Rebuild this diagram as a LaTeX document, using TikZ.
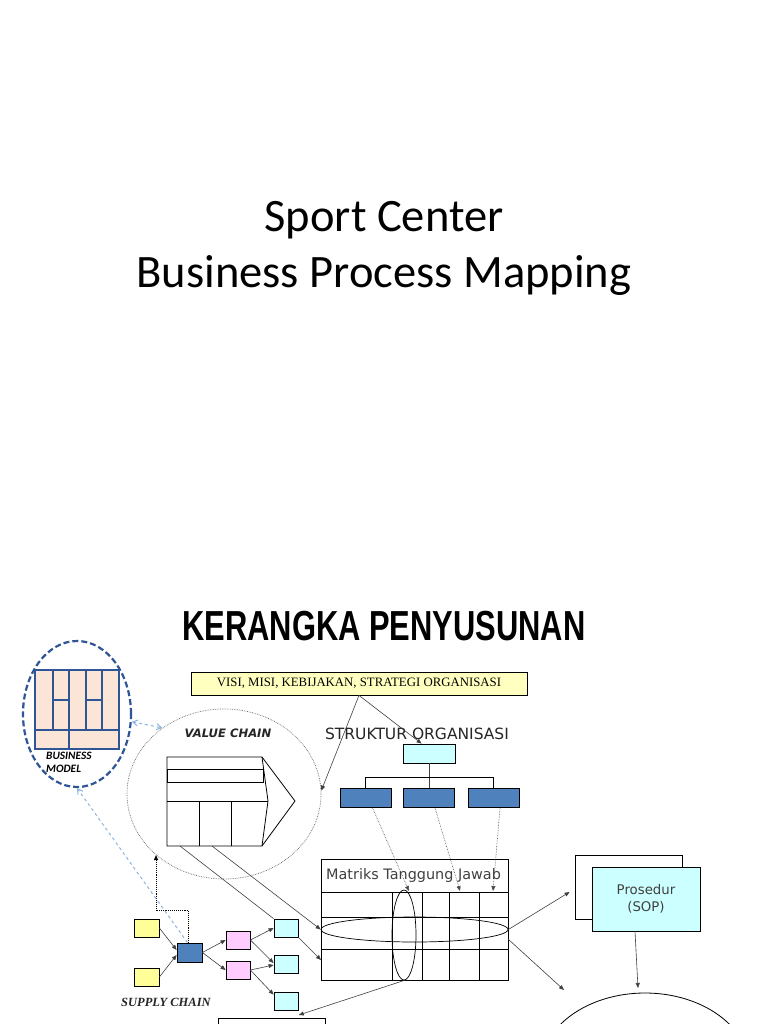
\documentclass[tikz,border=0pt]{standalone}
\usepackage{fontspec}
\setmainfont{Liberation Serif}
\newfontfamily\calibri{Carlito}
\newfontfamily\arialf{Liberation Sans}
\newfontfamily\verd{DejaVu Sans}
\usetikzlibrary{arrows.meta,shapes.geometric}
\definecolor{bmblue}{HTML}{2F5597}
\definecolor{peach}{HTML}{FBE5D6}
\definecolor{lblue}{HTML}{8EB4E3}
\definecolor{vyellow}{HTML}{FFFFC0}
\definecolor{cyanl}{HTML}{CCFFFF}
\definecolor{steel}{HTML}{4F81BD}
\definecolor{pinkl}{HTML}{FFCCFF}
\definecolor{yell}{HTML}{FFFF99}
\definecolor{txtgray}{HTML}{404040}
\tikzset{
  box/.style={draw, inner sep=0pt, line width=0.8pt},
  tri/.style={-{Triangle[length=5pt,width=4pt]}},
  thinline/.style={line width=0.6pt, black!75},
  dotline/.style={line width=0.6pt, black!70, densely dotted},
  bline/.style={draw=bmblue, line width=1.8pt},
  lbarrow/.style={lblue, dashed, line width=1pt},
}
\begin{document}
\begin{tikzpicture}[x=1pt,y=-1pt]
\useasboundingbox (0,0) rectangle (768,1024);
\clip (0,0) rectangle (768,1024);
\fill[white] (0,0) rectangle (768,1024);

% titles
\node[font=\calibri\fontsize{46.5}{56}\selectfont, anchor=base] (t1) at (384,232) {Sport Center};
\node[font=\calibri\fontsize{46.5}{56}\selectfont, anchor=base] (t2) at (384,287) {Business Process Mapping};
\node[font=\arialf\bfseries\fontsize{42}{48}\selectfont, anchor=base, inner sep=0] (kp) at (384,640) {\scalebox{0.735}[1]{KERANGKA PENYUSUNAN}};

% business model
\filldraw[bline, fill=peach] (35,670) rectangle (119,749);
\draw[bline] (35,730) -- (119,730);
\draw[bline] (53,670) -- (53,730);
\draw[bline] (69,670) -- (69,749);
\draw[bline] (86,670) -- (86,730);
\draw[bline] (102,670) -- (102,730);
\draw[bline] (53,700) -- (69,700);
\draw[bline] (86,700) -- (102,700);
\node[draw=bmblue, line width=2.2pt, dash pattern=on 6pt off 3pt, ellipse, minimum width=108pt, minimum height=146pt, inner sep=0] (bm) at (77,714) {};
\node[anchor=north west, align=left, inner sep=0, font=\calibri\bfseries\itshape\fontsize{11.3}{13}\selectfont] (bmt) at (46,752) {BUSINESS\\MODEL};

% VISI
\node[box, fill=vyellow, minimum width=336pt, minimum height=23pt, font=\fontsize{12.8}{14}\selectfont] (visi) at (359,683.5) {VISI, MISI, KEBIJAKAN, STRATEGI ORGANISASI};

% value chain
\node[draw=black!60, ellipse, minimum width=194pt, minimum height=170pt, inner sep=0, line width=0.7pt, densely dotted] (vc) at (224,794) {};
\node[font=\verd\bfseries\itshape\fontsize{11.6}{13}\selectfont, text=black!85] (vct) at (228,733) {VALUE CHAIN};
\draw[line width=0.8pt] (167,757) -- (262,757) -- (295,801) -- (262,846) -- (167,846) -- cycle;
\draw[line width=0.8pt] (167,769) rectangle (263,782);
\draw[line width=0.8pt] (167,801) -- (268,801);
\draw[line width=0.8pt] (262,757) -- (268,801) -- (262,846);
\draw[line width=0.8pt] (199,801) -- (199,846);
\draw[line width=0.8pt] (231,801) -- (231,846);
\coordinate (vcb1) at (180,846);
\coordinate (vcb2) at (212,846);
\coordinate (vcsc) at (156,855);

% dashed blue arrows
\draw[lbarrow, {Straight Barb[length=5pt,width=6pt]}-{Straight Barb[length=5pt,width=6pt]}] (bm.-8) -- (vc.133);

% org structure
\node[font=\verd\fontsize{15.5}{17}\selectfont, text=black!85] (so) at (417,734) {STRUKTUR ORGANISASI};
\node[box, fill=cyanl, minimum width=52pt, minimum height=19pt] (org0) at (429,753.5) {};
\node[box, fill=steel, minimum width=51pt, minimum height=19pt] (org1) at (365.5,798) {};
\node[box, fill=steel, minimum width=51pt, minimum height=19pt] (org2) at (429,798) {};
\node[box, fill=steel, minimum width=51pt, minimum height=19pt] (org3) at (493.5,798) {};
\coordinate (bus) at (429,777);
\draw[thinline] (org0.south) -- (org2.north);
\draw[line width=0.8pt] (org1.north) -- (org1.north |- bus) -- (org3.north |- bus) -- (org3.north);

\draw[thinline, tri] (visi.south) -- (vc.2);
\draw[thinline, tri] (visi.south) -- ([xshift=19pt]org0.north west);

% matrix
\node[box, minimum width=187pt, minimum height=121pt] (mat) at (414.5,919.5) {};
\node[anchor=west, font=\verd\fontsize{14.4}{16}\selectfont, text=txtgray, inner sep=0] (mtj) at (326,876) {Matriks Tanggung Jawab};
\draw[line width=0.8pt] (321,892) -- (508,892);
\draw[line width=0.8pt] (321,917) -- (508,917);
\draw[line width=0.8pt] (321,949) -- (508,949);
\foreach \xx in {392,422,449,479} \draw[line width=0.8pt] (\xx,892) -- (\xx,980);
\node[draw, ellipse, minimum width=187pt, minimum height=25pt, inner sep=0, line width=0.7pt] (he) at (414.5,929.5) {};
\node[draw, ellipse, minimum width=24pt, minimum height=90pt, inner sep=0, line width=0.7pt] (ve) at (404,935) {};
\coordinate (mt1) at (409,891);
\coordinate (mt2) at (460,891);
\coordinate (mt3) at (493,891);
\coordinate (mL) at (321,960);

\draw[dotline, tri] ([xshift=7pt]org1.south) -- (mt1);
\draw[dotline, tri] ([xshift=6pt]org2.south) -- (mt2);
\draw[dotline, tri] ([xshift=6.5pt]org3.south) -- (mt3);

% prosedur
\node[box, fill=white, minimum width=107pt, minimum height=64pt] (prb) at (628.5,887) {};
\node[box, fill=cyanl, minimum width=108pt, minimum height=64pt, align=center, font=\verd\fontsize{13.3}{17}\selectfont, text=txtgray] (prf) at (646,899) {Prosedur\\(SOP)};
\node[draw, ellipse, minimum width=210pt, minimum height=154pt, inner sep=0, line width=0.8pt] (be) at (645,1070) {};
\coordinate (beT) at (638,988);
\coordinate (beL) at (564,990);
\draw[thinline, tri] ([xshift=-11pt]prf.south) -- (beT);
\draw[thinline, tri] (he.east) -- ([shift={(-5,5)}]prb.west);
\draw[thinline, tri] (508,939) -- (beL);

% bottom rectangle
\node[box, minimum width=107pt, minimum height=40pt, anchor=north west] (br) at (218,1018) {};
\draw[thinline, tri] (ve.-88) -- ([shift={(-27,-3)}]br.north east);

% supply chain
\node[box, fill=yell, minimum width=25pt, minimum height=18pt] (y1) at (146.5,928) {};
\node[box, fill=yell, minimum width=25pt, minimum height=18pt] (y2) at (146.5,977) {};
\node[box, fill=steel, minimum width=25pt, minimum height=19pt] (scb) at (189.5,952.5) {};
\node[box, fill=pinkl, minimum width=24pt, minimum height=18pt] (p1) at (238,940) {};
\node[box, fill=pinkl, minimum width=24pt, minimum height=18pt] (p2) at (238,970) {};
\node[box, fill=cyanl, minimum width=24pt, minimum height=18pt] (c1) at (286,928) {};
\node[box, fill=cyanl, minimum width=24pt, minimum height=18pt] (c2) at (286,964) {};
\node[box, fill=cyanl, minimum width=24pt, minimum height=18pt] (c3) at (286,1001) {};
\node[anchor=west, inner sep=0, font=\bfseries\itshape\fontsize{12.5}{14}\selectfont, text=black!85] (sct) at (121,1002) {SUPPLY CHAIN};

\draw[thinline, tri] (y1.east) -- ([yshift=2.5pt]scb.west);
\draw[thinline, tri] (y2.east) -- ([yshift=-2.5pt]scb.west);
\draw[thinline, tri] (scb.east) -- (p1.west);
\draw[thinline, tri] (scb.east) -- (p2.west);
\draw[thinline, tri] (p1.east) -- (c1.west);
\draw[thinline, tri] (p1.east) -- ([yshift=1pt]c2.west);
\draw[thinline, tri] (p2.east) -- ([yshift=-1pt]c2.west);
\draw[thinline, tri] (p2.east) -- ([yshift=-3pt]c3.north west);

\draw[thinline] (vcb1) -- (c1.north west);
\draw[thinline, tri] (vcb2) -- (he.west);
\draw[thinline, tri] (c1.south east) -- (mL);

\draw[line width=0.9pt, densely dotted, tri] ([xshift=-1pt]scb.north) -- ++(0,-32) -| (vcsc);
\draw[lbarrow, -{Straight Barb[length=5pt,width=6pt]}] ([xshift=-2pt]scb.north) -- (bm.south);
\end{tikzpicture}
\end{document}
